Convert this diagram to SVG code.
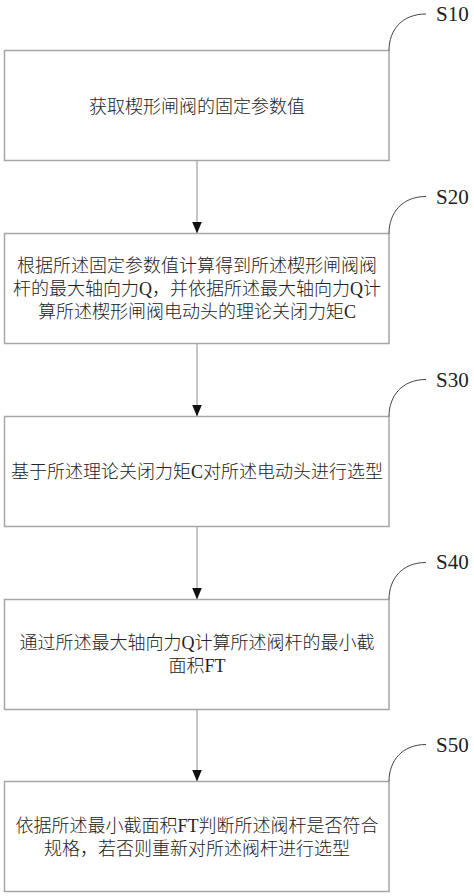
<svg xmlns="http://www.w3.org/2000/svg" width="474" height="896" viewBox="0 0 474 896">
<style>
.box{fill:#fff;stroke:#a6a6a6;stroke-width:1.5}
.t{font-family:"Liberation Serif","Noto Sans CJK SC",serif;font-size:18px;font-weight:300;fill:#222;text-anchor:middle}
.lbl{font-family:"Liberation Serif",serif;font-size:21px;fill:#222}
.cv{fill:none;stroke:#444;stroke-width:1}
.cn{fill:none;stroke:#b3b3b3;stroke-width:1.5;marker-end:url(#ah)}
</style>
<defs>
<marker id="ah" viewBox="0 0 12 10" refX="12" refY="5" markerWidth="12" markerHeight="10" markerUnits="userSpaceOnUse" orient="auto">
<path d="M0,0 L12,5 L0,10 z" fill="#111"/>
</marker>
</defs>
<rect width="474" height="896" fill="#fff"/>
<g id="connectors">
<line class="cn" x1="197" y1="160.5" x2="197" y2="233.5"/>
<line class="cn" x1="197" y1="343.5" x2="197" y2="416.5"/>
<line class="cn" x1="197" y1="526.5" x2="197" y2="599.5"/>
<line class="cn" x1="197" y1="709.5" x2="197" y2="781.5"/>
</g>
<g id="S10">
<rect class="box" x="4.5" y="50.5" width="384.5" height="110"/>
<text class="t" x="197" y="112.5">获取楔形闸阀的固定参数值</text>
<path class="cv" d="M389,50.5 C389,30 402,14 426,14"/>
<text class="lbl" x="436" y="20.5">S10</text>
</g>
<g id="S20">
<rect class="box" x="4.5" y="233.5" width="384.5" height="110"/>
<text class="t" x="197" y="271.5">根据所述固定参数值计算得到所述楔形闸阀阀</text>
<text class="t" x="197" y="294.8">杆的最大轴向力Q，并依据所述最大轴向力Q计</text>
<text class="t" x="197" y="318.1">算所述楔形闸阀电动头的理论关闭力矩C</text>
<path class="cv" d="M389,233.5 C389,213 402,196.5 426,196.5"/>
<text class="lbl" x="436" y="203.5">S20</text>
</g>
<g id="S30">
<rect class="box" x="4.5" y="416.5" width="384.5" height="110"/>
<text class="t" x="197" y="477.5">基于所述理论关闭力矩C对所述电动头进行选型</text>
<path class="cv" d="M389,416.5 C389,396 402,379.5 426,379.5"/>
<text class="lbl" x="436" y="386.5">S30</text>
</g>
<g id="S40">
<rect class="box" x="4.5" y="599.5" width="384.5" height="110"/>
<text class="t" x="197" y="649">通过所述最大轴向力Q计算所述阀杆的最小截</text>
<text class="t" x="197" y="672.3">面积FT</text>
<path class="cv" d="M389,599.5 C389,579 402,562.5 426,562.5"/>
<text class="lbl" x="436" y="569">S40</text>
</g>
<g id="S50">
<rect class="box" x="4.5" y="781.5" width="384.5" height="110"/>
<text class="t" x="197" y="831.5">依据所述最小截面积FT判断所述阀杆是否符合</text>
<text class="t" x="197" y="854.8">规格，若否则重新对所述阀杆进行选型</text>
<path class="cv" d="M389,781.5 C389,761 402,744.5 426,744.5"/>
<text class="lbl" x="436" y="751.5">S50</text>
</g>
</svg>
